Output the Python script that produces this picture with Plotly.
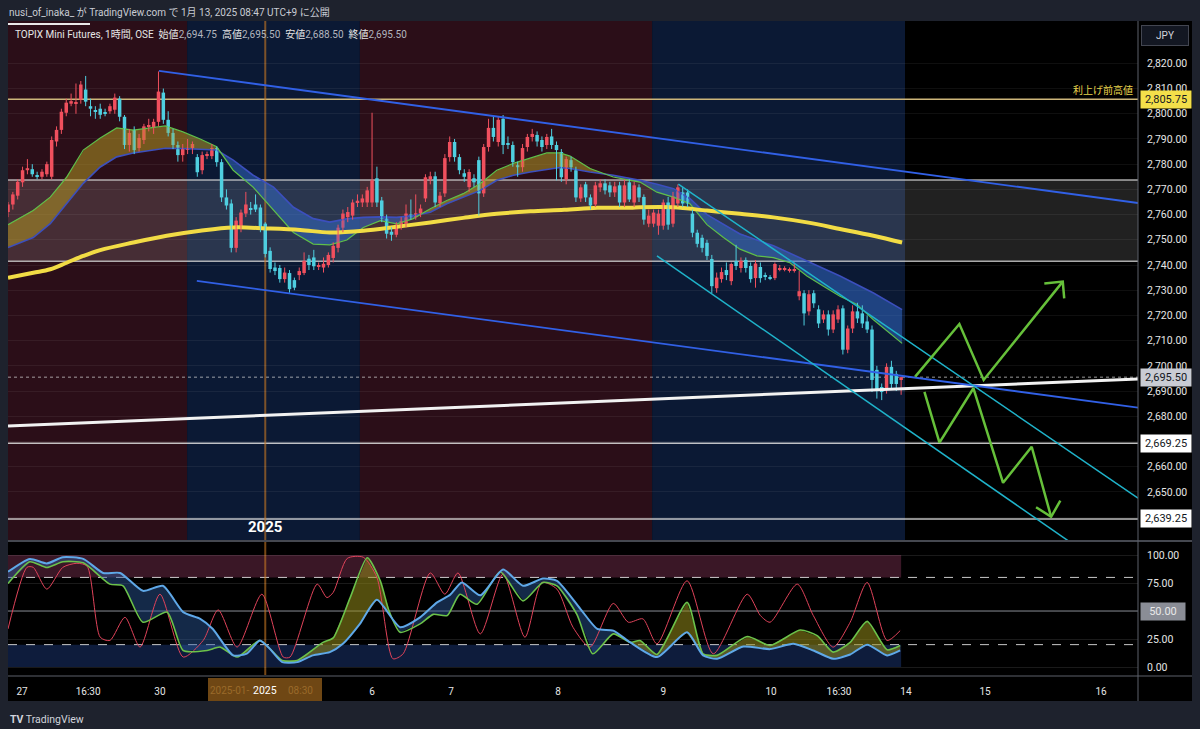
import numpy as np
import plotly.graph_objects as go

W, H = 1200, 729
FONT = "Roboto, Noto Sans CJK JP, sans-serif"

# ---------------- DATA ----------------
opens = [2761, 2764, 2767.5, 2772.8, 2777.6, 2778, 2775.5, 2775, 2776, 2775,
         2789, 2793.6, 2800.4, 2804, 2804, 2805.6, 2809.6, 2803, 2801.5, 2802,
         2800.4, 2801, 2801.6, 2806, 2798.8, 2787.6, 2793.6, 2786.4, 2789.6, 2795,
         2794.4, 2796.8, 2808.4, 2797.6, 2792.4, 2787.6, 2783.6, 2786, 2786.4, 2782.8,
         2777.6, 2783.5, 2783.2, 2786.4, 2780.8, 2766.8, 2764.4, 2746.8, 2754.4, 2760.4,
         2762.5, 2764, 2762.8, 2756.4, 2745.6, 2739, 2738.8, 2734.4, 2736.8, 2734,
         2736, 2736.8, 2742.5, 2743, 2739.5, 2739, 2740, 2742.8, 2746.8, 2754.8,
         2759, 2759.6, 2764.8, 2764.8, 2764.8, 2764.8, 2774.4, 2765.6, 2758.4, 2753.2,
         2752, 2756, 2756.4, 2760, 2759, 2760.4, 2766.4, 2774, 2775.2, 2764.5,
         2768.4, 2782.8, 2788.8, 2782.8, 2776.4, 2770.9, 2774.4, 2781.6, 2768.4, 2786.8,
         2794.4, 2788.8, 2798, 2788.4, 2787.6, 2779.6, 2778.8, 2786.8, 2790.8, 2791.6,
         2789.6, 2787.6, 2791, 2787.6, 2784.8, 2774, 2781.6, 2777.6, 2766.4, 2772,
         2766.8, 2764, 2770.8, 2772.4, 2771.6, 2768.8, 2771.6, 2764.8, 2772.8, 2764.8,
         2770.8, 2767, 2756.4, 2756.4, 2755.6, 2755.6, 2764.8, 2756.4, 2764.4, 2768.8,
         2768.8, 2760.4, 2752.8, 2750.8, 2748.8, 2742.4, 2730.8, 2734.4, 2738, 2733.6,
         2741.6, 2738.8, 2742, 2739.6, 2734.8, 2739.2, 2735.5, 2735, 2734.8, 2738.4,
         2738.4, 2738, 2738, 2727.6, 2728.8, 2721.6, 2728.8, 2722.4, 2718.4, 2720.4,
         2714.4, 2718.4, 2722.8, 2706.4, 2714.8, 2721.6, 2720.8, 2717.6, 2714.4, 2698.4,
         2691.6, 2690.4, 2699.6, 2696.8, 2694.75]
highs = [2765, 2769, 2774, 2779, 2782, 2780, 2777, 2778, 2781, 2791,
         2795, 2802, 2806, 2808, 2812, 2813, 2815, 2806, 2803, 2804,
         2802, 2804, 2808, 2807, 2799.5, 2794, 2795, 2792, 2796, 2798,
         2798, 2816.8, 2810, 2801, 2794, 2789, 2788, 2790, 2789, 2784,
         2785, 2785, 2788, 2787, 2782, 2770, 2766, 2759, 2762, 2769,
         2765, 2768, 2764, 2757, 2747, 2741, 2740, 2739, 2738, 2735,
         2739, 2745, 2744, 2746, 2741, 2743, 2745, 2749, 2756, 2762,
         2763, 2766, 2768, 2768, 2771, 2800.4, 2779, 2767, 2760, 2755,
         2757, 2759, 2764, 2766, 2768, 2764, 2776, 2777, 2777, 2769,
         2784, 2791, 2790, 2784, 2778, 2778, 2776, 2783, 2788, 2798,
         2799, 2799, 2799.5, 2791, 2789, 2781, 2788, 2792, 2794, 2793,
         2791, 2792, 2794, 2789, 2786, 2783, 2783, 2779, 2772, 2773,
         2768, 2773, 2774, 2774, 2773, 2773, 2773, 2774, 2774, 2773,
         2772, 2768, 2762, 2762, 2762, 2766, 2767, 2769, 2772, 2771,
         2770, 2762, 2754, 2752, 2750, 2744, 2737, 2739, 2741, 2741,
         2748, 2743, 2743, 2741, 2742, 2741, 2737, 2736, 2741, 2740,
         2739.5, 2739, 2741, 2737.6, 2730, 2730, 2730, 2724, 2722, 2722,
         2722, 2724, 2724, 2716, 2724, 2725, 2724, 2720, 2716, 2700,
         2693, 2701, 2702, 2698, 2695.5]
lows = [2759, 2762, 2766, 2771, 2776, 2775, 2774, 2774, 2775, 2774,
        2787, 2792, 2799, 2803, 2800, 2804, 2803, 2799, 2798, 2798,
        2799, 2800, 2800, 2797, 2786, 2785, 2784, 2785, 2788, 2793,
        2792, 2795, 2796, 2791, 2786, 2781, 2781, 2784, 2784, 2775,
        2776, 2782, 2782, 2779, 2765, 2762, 2745, 2745, 2753, 2759,
        2760, 2761, 2753, 2743, 2737, 2736, 2733, 2733, 2729, 2730,
        2734, 2736, 2738, 2738, 2738, 2737, 2739, 2741, 2745, 2753,
        2757, 2758, 2763, 2763, 2763, 2763, 2763, 2757, 2750.5, 2749.6,
        2751, 2754, 2755, 2758, 2758, 2759, 2765, 2772, 2763, 2763,
        2767, 2781, 2781, 2776, 2773, 2769, 2771, 2759.6, 2767, 2785,
        2789, 2787, 2784, 2786, 2779, 2775, 2777, 2785, 2789, 2787,
        2785, 2786, 2786, 2773.6, 2773, 2772, 2777, 2765, 2765, 2765,
        2762, 2763, 2769, 2768, 2767, 2767, 2763, 2763, 2765, 2763,
        2765, 2756, 2755, 2755, 2752, 2754, 2754, 2755, 2763, 2763,
        2763, 2751, 2747, 2745, 2742, 2728.8, 2729, 2733, 2734, 2732,
        2738, 2737, 2737, 2733, 2731, 2733, 2734, 2734, 2734, 2737.5,
        2737.5, 2737, 2737, 2726, 2716, 2720, 2723, 2715, 2717, 2712,
        2713, 2717, 2704.5, 2705, 2713, 2717, 2715, 2713, 2689.6, 2687,
        2686.4, 2689, 2691, 2690, 2688.5]
closes = [2764, 2768, 2773, 2777.6, 2778.4, 2776, 2775, 2777, 2780, 2789.6,
          2793.6, 2800.8, 2804.4, 2805, 2804.5, 2811.6, 2804.8, 2802, 2801, 2799.6,
          2800, 2803, 2806.4, 2798.8, 2787.6, 2792.4, 2785.6, 2790.4, 2795, 2795.5,
          2796.8, 2808.8, 2797.6, 2792.4, 2787.6, 2783.6, 2786.4, 2786.5, 2788, 2776.8,
          2783.6, 2783.8, 2786.4, 2780.8, 2766.8, 2763.6, 2746.8, 2757.6, 2760.8, 2764,
          2762, 2762, 2754.8, 2744.4, 2738.4, 2737.6, 2734.4, 2737, 2730.4, 2731,
          2737.6, 2741.6, 2740, 2739.5, 2739.6, 2740.5, 2744, 2747.6, 2754.8, 2760.4,
          2761, 2764.8, 2765.5, 2766.4, 2769.6, 2773.6, 2764.8, 2758.4, 2752.4, 2752,
          2756, 2757.5, 2760.4, 2759, 2760.5, 2762.4, 2774.8, 2775.2, 2764.8, 2767.5,
          2782.4, 2788.8, 2782.8, 2777.6, 2775, 2776.9, 2772.8, 2768.4, 2786.8, 2794.4,
          2790.8, 2797.6, 2787.6, 2788, 2780.8, 2778.8, 2786.4, 2790.8, 2792, 2789,
          2786.8, 2790.8, 2787.6, 2785.6, 2774.8, 2782, 2778.8, 2766.8, 2770.8, 2766.8,
          2763.6, 2771.6, 2772.4, 2769.6, 2768.8, 2771.2, 2764.8, 2771.6, 2766, 2771.6,
          2766.8, 2758, 2759.6, 2760.8, 2760.4, 2764.8, 2756, 2767.2, 2770.8, 2764.4,
          2764.4, 2752.8, 2748.4, 2746.8, 2743.6, 2731.6, 2735, 2737.2, 2736, 2740.4,
          2739.6, 2741.6, 2738.8, 2734.4, 2740.6, 2734.8, 2735.3, 2734.6, 2740.4, 2738.8,
          2738.6, 2738.3, 2738.2, 2729.6, 2720.8, 2728.4, 2724.8, 2716.8, 2720.4, 2714.4,
          2720.4, 2722.4, 2706.4, 2714.8, 2721.6, 2718.8, 2716.8, 2714.4, 2694.4, 2690.8,
          2689.6, 2699.6, 2692.8, 2692.8, 2695.5]

# session background boundaries (bar index units) and kinds
session_edges = [0, 36.9, 72.5, 132.7, 184.8]
session_kinds = ["day", "night", "day", "night"]

# EMA ribbon (fast = green, slow = blue)
ema_fast_x = [0, 5.2, 8.7, 12.1, 15.5, 19.0, 22.4, 25.8, 29.3, 32.4, 35.9, 39.6, 43.0, 46.4, 50.5,
              54.7, 58.8, 62.9, 66.3, 69.8, 73.2, 76.7, 80.1, 83.5, 87.0, 90.4, 93.8, 97.3, 100.7, 104.1,
              107.6, 111.0, 113.7, 115.8, 119.9, 124.7, 128.2, 130.2, 133.7, 137.1, 140.5, 144.0, 147.4,
              150.8, 154.3, 157.7, 161.1, 164.6, 168.0, 171.4, 174.9, 178.3, 184.2]
ema_fast_y = [2756, 2761.6, 2766.9, 2774.9, 2785.6, 2790.4, 2794.4, 2793.5, 2794.4, 2795.2, 2792.9, 2790,
              2786.9, 2777.6, 2770.9, 2761.6, 2752.9, 2748.3, 2748, 2749.9, 2754.9, 2757.6, 2756.3, 2758.4,
              2762.3, 2765.6, 2768.3, 2772.3, 2777.6, 2780.3, 2782.3, 2784.5, 2784.5, 2783.2, 2778.3, 2774.9,
              2773.6, 2772.9, 2768.9, 2766.9, 2764.3, 2756, 2750.9, 2746.3, 2743.6, 2742.9, 2740.9, 2735.6,
              2731.6, 2727.6, 2724.3, 2718.3, 2708.9]
ema_slow_x = [0, 5.2, 8.7, 12.1, 15.5, 19.0, 22.4, 25.8, 29.3, 32.4, 35.9, 39.6, 43.0, 46.4, 50.5,
              54.7, 58.8, 62.9, 66.3, 69.8, 73.2, 76.7, 80.1, 83.5, 87.0, 90.4, 93.8, 97.3, 100.7, 104.1,
              107.6, 111.0, 113.7, 115.8, 119.9, 124.7, 128.2, 130.2, 133.7, 137.1, 140.5, 144.0, 150.8,
              157.7, 164.6, 171.4, 178.3, 184.2]
ema_slow_y = [2746.9, 2750.9, 2756.4, 2764.4, 2772.4, 2778.9, 2782.9, 2784.4, 2785.5, 2786.3, 2786.2, 2786,
              2785.6, 2781.6, 2775.6, 2770.9, 2762.9, 2758.4, 2757, 2758.3, 2758.9, 2759.1, 2758.9, 2759.6,
              2760.9, 2764.3, 2766.9, 2769.6, 2773.6, 2775.6, 2776.9, 2778, 2778.7, 2778.3, 2776.9, 2775.6,
              2774.5, 2773.6, 2772, 2770.3, 2766.3, 2760, 2752.3, 2747.6, 2741.6, 2735.6, 2728.9, 2722.3]

# long moving average (yellow)
sma_x = [0, 5.2, 8.7, 12.1, 15.5, 19.0, 25.8, 32.7, 39.6, 46.4, 53.3, 60.2, 66.3, 73.2, 80.1, 87.0,
         93.8, 100.7, 107.6, 114.6, 121.4, 128.2, 130.2, 137.1, 144.0, 150.8, 157.7, 164.6, 171.4, 178.3, 184.2]
sma_y = [2734.9, 2736.9, 2738.3, 2740.9, 2743.6, 2745.9, 2748.9, 2751.6, 2753.6, 2754.9, 2754.5, 2753.9,
         2752.9, 2753.6, 2755.2, 2756.9, 2758.7, 2760.3, 2761.3, 2761.9, 2762.7, 2762.7, 2762.9, 2762.9,
         2761.6, 2760.3, 2758.9, 2756.9, 2754.3, 2751.6, 2748.9]

# oscillator lines
osc_blue_x = [0, 4.5, 8.0, 11.3, 15.5, 19.6, 23.1, 27.8, 31.9, 36.1, 39.6, 42.2, 46.4, 49.2, 51.9, 54.0,
              56.5, 59.6, 62.8, 66.3, 69.0, 72.5, 76.0, 80.8, 84.9, 88.4, 91.1, 93.5, 97.3, 102.0, 106.1,
              110.2, 113.1, 117.9, 121.4, 124.7, 128.2, 133.7, 139.9, 143.2, 146.1, 151.5, 157.0, 161.8,
              165.9, 170.0, 173.5, 177.0, 181.1, 183.8]
osc_blue_y = [85, 96.5, 92.5, 98, 96.5, 84, 84, 68, 72.5, 49, 43, 34, 10.4, 12, 23.7, 16, 4.4, 4.4, 10.4,
              13.3, 20.7, 38.5, 60, 35.5, 44.4, 57.7, 64.5, 75.5, 64, 87, 72.5, 79, 77, 52, 34, 32.5, 22,
              8.9, 31, 10.4, 7.4, 18.3, 16, 20.7, 14.8, 7.4, 11.2, 20, 10.4, 14.8]
osc_green_x = [0, 4.5, 8.0, 11.3, 15.5, 21.0, 23.7, 27.8, 32.8, 36.1, 41.0, 43.7, 47.2, 51.9, 56.5, 59.6,
               64.9, 67.0, 70.5, 74.0, 76.7, 78.5, 80.8, 84.9, 87.6, 90.5, 93.1, 96.6, 101.4, 106.1, 110.2,
               113.1, 117.2, 120.5, 124.7, 128.2, 130.2, 133.7, 139.9, 143.2, 146.1, 152.3, 157.0, 163.2,
               166.7, 170.0, 173.5, 177.0, 181.1, 183.8]
osc_green_y = [74.6, 94, 88.8, 94, 93, 74, 72.5, 40, 49, 14.8, 14.8, 17.8, 8.9, 23.7, 5.9, 5.9, 22, 26, 62,
               97.6, 76.9, 50, 31, 38.5, 47, 46, 65, 56, 85, 59, 75.5, 72.5, 47, 11.8, 29.6, 22, 23.7, 11.2,
               57.7, 11.8, 10.4, 27.2, 19.2, 33, 28, 13.3, 22, 40.8, 15.4, 19.2]
osc_red_x = [0, 3.9, 5.2, 8.0, 11.3, 14.2, 16.3, 19.0, 21.0, 24.1, 27.2, 31.3, 36.1, 40.2, 43.3, 47.2,
             52.3, 56.7, 58.1, 63.7, 65.7, 67.0, 69.9, 73.2, 76.0, 79.3, 81.4, 87.0, 90.0, 92.7, 97.3,
             102.0, 106.5, 110.0, 113.1, 116.4, 119.9, 124.7, 127.8, 130.8, 133.7, 139.9, 145.3, 152.3,
             155.0, 157.0, 162.6, 165.9, 170.0, 173.5, 177.0, 181.1, 183.8]
osc_red_y = [34, 89, 89, 69.5, 89, 92.6, 90, 26.6, 23.7, 44.4, 17.8, 65, 8.9, 23.7, 51, 17.8, 65, 8.9, 8.9,
             74, 62, 66.6, 97, 98, 80, 7.4, 11.8, 84, 65, 84, 29.6, 83, 26.6, 75.5, 69.5, 35.5, 17.8, 56.8,
             40, 43, 20.7, 77, 11.8, 65, 46, 40, 74, 46, 17.8, 40, 75.5, 23.7, 32.5]

# horizontal levels
level_prev_high = 2805.75
box_top, box_bottom = 2773.7, 2741.5
level_a, level_b = 2669.25, 2639.25
last_price = 2695.50

# trend lines (bar index, price)
blue_upper_x, blue_upper_y = [31.1, 232.8], [2817.0, 2764.6]
blue_lower_x, blue_lower_y = [38.9, 232.8], [2733.7, 2683.4]
white_x, white_y = [0, 232.8], [2676.1, 2694.8]
cyan_upper_x, cyan_upper_y = [138.1, 232.8], [2772.1, 2647.5]
cyan_lower_x, cyan_lower_y = [133.7, 232.8], [2743.6, 2611.4]

# scenario arrows
up_path_x, up_path_y = [186.9, 196.0, 201.0, 217.3], [2695.7, 2716.6, 2694.4, 2733.4]
up_head_x, up_head_y = [213.5, 217.3, 217.6], [2732.7, 2733.4, 2726.8]
dn_path_x = [188.8, 191.9, 198.9, 205.0, 210.9, 214.9]
dn_path_y = [2689.7, 2669.5, 2691.1, 2653.6, 2667.9, 2640.1]
dn_head_x, dn_head_y = [211.8, 214.9, 216.8], [2643.9, 2640.1, 2646.5]

# axis ticks
x_tick_pos = [2.9, 16.5, 31.3, 75.0, 91.3, 113.3, 135.0, 157.2, 171.2, 185.0, 201.3, 225.2]
x_tick_text = ["27", "16:30", "30", "6", "7", "8", "9", "10", "16:30", "14", "15", "16"]
year_tick_pos = 53.0
price_ticks = list(range(2640, 2821, 10))
osc_ticks = [0, 25, 75, 100]
osc_mid = 50

# ---------------- LAYOUT GEOMETRY ----------------
X_RANGE = [0, 232.8]
Y_RANGE = [2630.9, 2836.8]
Y2_RANGE = [-7.1, 111.6]
XDOM = [8 / W, 1138 / W]
YDOM = [1 - 540 / H, 1 - 21 / H]
Y2DOM = [1 - 675 / H, 1 - 542 / H]


def py(p):
    return 1 - p / H


RED = "#f0505e"
CYAN = "#4fcfe0"

fig = go.Figure()


def split_fill(xa, ya, xb, yb, x_lo, x_hi, c_above, c_below, xr, yr, step=0.2):
    g = np.arange(x_lo, x_hi + 1e-9, step)
    a = np.interp(g, xa, ya)
    b = np.interp(g, xb, yb)
    d = a - b
    out = []

    def poly(sx, sa, sb, upc):
        return go.Scatter(x=list(sx) + list(sx)[::-1], y=list(sa) + list(sb)[::-1], fill="toself",
                          fillcolor=c_above if upc else c_below, line=dict(width=0), mode="lines",
                          hoverinfo="skip", xaxis=xr, yaxis=yr)

    sx, sa, sb = [g[0]], [a[0]], [b[0]]
    cur = d[0] >= 0
    for i in range(1, len(g)):
        s = d[i] >= 0
        if s != cur:
            t = d[i - 1] / (d[i - 1] - d[i])
            xc = g[i - 1] + t * (g[i] - g[i - 1])
            yc = a[i - 1] + t * (a[i] - a[i - 1])
            sx.append(xc); sa.append(yc); sb.append(yc)
            out.append(poly(sx, sa, sb, cur))
            sx, sa, sb = [xc], [yc], [yc]
            cur = s
        sx.append(g[i]); sa.append(a[i]); sb.append(b[i])
    out.append(poly(sx, sa, sb, cur))
    return out


# --- EMA ribbon ---
for tr in split_fill(ema_fast_x, ema_fast_y, ema_slow_x, ema_slow_y, 0, 184.2,
                     "rgba(176,150,36,0.55)", "rgba(52,110,205,0.50)", "x", "y"):
    fig.add_trace(tr)
fig.add_trace(go.Scatter(x=ema_slow_x, y=ema_slow_y, mode="lines", line=dict(color="#3c4fbd", width=1.6),
                         hoverinfo="skip"))
fig.add_trace(go.Scatter(x=ema_fast_x, y=ema_fast_y, mode="lines", line=dict(color="#5fbf4a", width=1.2),
                         hoverinfo="skip"))
# --- long MA ---
fig.add_trace(go.Scatter(x=sma_x, y=sma_y, mode="lines", line=dict(color="#f2dc45", width=4, shape="spline"),
                         hoverinfo="skip"))

# --- candles ---
n = min(len(opens), len(highs), len(lows), len(closes))
idx = list(range(n))
up = [closes[i] >= opens[i] for i in idx]
for flag, col in ((True, RED), (False, CYAN)):
    wx, wy = [], []
    for i in idx:
        if up[i] == flag:
            wx += [i, i, None]
            wy += [lows[i], highs[i], None]
    fig.add_trace(go.Scatter(x=wx, y=wy, mode="lines", line=dict(color=col, width=1), hoverinfo="skip"))
fig.add_trace(go.Bar(x=idx, base=[min(opens[i], closes[i]) for i in idx],
                     y=[max(abs(closes[i] - opens[i]), 0.4) for i in idx], width=0.72,
                     marker=dict(color=[RED if u else CYAN for u in up], line=dict(width=0)),
                     hoverinfo="skip"))

# --- trend lines ---
fig.add_trace(go.Scatter(x=white_x, y=white_y, mode="lines", line=dict(color="#f2f2f2", width=3), hoverinfo="skip"))
for lx, ly in ((blue_upper_x, blue_upper_y), (blue_lower_x, blue_lower_y)):
    fig.add_trace(go.Scatter(x=lx, y=ly, mode="lines", line=dict(color="#3160e6", width=1.8), hoverinfo="skip"))
for lx, ly in ((cyan_upper_x, cyan_upper_y), (cyan_lower_x, cyan_lower_y)):
    fig.add_trace(go.Scatter(x=lx, y=ly, mode="lines", line=dict(color="#1fb3ca", width=1.5), hoverinfo="skip"))
for lx, ly in ((up_path_x, up_path_y), (up_head_x, up_head_y), (dn_path_x, dn_path_y), (dn_head_x, dn_head_y)):
    fig.add_trace(go.Scatter(x=lx, y=ly, mode="lines", line=dict(color="#66c03a", width=2.5), hoverinfo="skip"))

# --- oscillator ---
for tr in split_fill(osc_green_x, osc_green_y, osc_blue_x, osc_blue_y, 0, 183.8,
                     "rgba(150,140,25,0.55)", "rgba(45,90,160,0.45)", "x2", "y2"):
    fig.add_trace(tr)
fig.add_trace(go.Scatter(x=osc_red_x, y=osc_red_y, mode="lines",
                         line=dict(color="#e0435a", width=1, shape="spline", smoothing=0.7),
                         xaxis="x2", yaxis="y2", hoverinfo="skip"))
fig.add_trace(go.Scatter(x=osc_green_x, y=osc_green_y, mode="lines",
                         line=dict(color="#6cc24a", width=1.6, shape="spline", smoothing=0.6),
                         xaxis="x2", yaxis="y2", hoverinfo="skip"))
fig.add_trace(go.Scatter(x=osc_blue_x, y=osc_blue_y, mode="lines",
                         line=dict(color="#5fa8e8", width=2, shape="spline", smoothing=0.6),
                         xaxis="x2", yaxis="y2", hoverinfo="skip"))

# ---------------- SHAPES ----------------
shapes = []
shapes.append(dict(type="rect", xref="paper", yref="paper", x0=8 / W, x1=1192 / W, y0=py(701), y1=py(21),
                   fillcolor="#000000", line=dict(width=0), layer="below"))
for k, kind in enumerate(session_kinds):
    col = "#2b0e18" if kind == "day" else "#0b1934"
    shapes.append(dict(type="rect", xref="x", yref="y", x0=session_edges[k], x1=session_edges[k + 1],
                       y0=Y_RANGE[0], y1=Y_RANGE[1], fillcolor=col, line=dict(width=0), layer="below"))
shapes.append(dict(type="rect", xref="x", yref="y", x0=X_RANGE[0], x1=X_RANGE[1], y0=box_bottom, y1=box_top,
                   fillcolor="rgba(255,255,255,0.13)", line=dict(width=0), layer="below"))
for lv in (box_top, box_bottom):
    shapes.append(dict(type="line", xref="x", yref="y", x0=X_RANGE[0], x1=X_RANGE[1], y0=lv, y1=lv,
                       line=dict(color="rgba(210,210,210,0.8)", width=1.5), layer="below"))
shapes.append(dict(type="line", xref="x", yref="y", x0=X_RANGE[0], x1=X_RANGE[1], y0=level_prev_high,
                   y1=level_prev_high, line=dict(color="#cdb67a", width=1.5), layer="below"))
for lv in (level_a, level_b):
    shapes.append(dict(type="line", xref="x", yref="y", x0=X_RANGE[0], x1=X_RANGE[1], y0=lv, y1=lv,
                       line=dict(color="rgba(225,225,225,0.85)", width=1.5), layer="below"))
shapes.append(dict(type="line", xref="x", yref="y", x0=X_RANGE[0], x1=X_RANGE[1], y0=last_price, y1=last_price,
                   line=dict(color="rgba(220,220,220,0.7)", width=1, dash="dot"), layer="below"))
shapes.append(dict(type="rect", xref="x2", yref="y2", x0=0, x1=184, y0=80, y1=100, fillcolor="#3a1726",
                   line=dict(width=0), layer="below"))
shapes.append(dict(type="rect", xref="x2", yref="y2", x0=0, x1=184, y0=0, y1=20, fillcolor="#0e1c3c",
                   line=dict(width=0), layer="below"))
for lv in (80, 20):
    shapes.append(dict(type="line", xref="x2", yref="y2", x0=X_RANGE[0], x1=X_RANGE[1], y0=lv, y1=lv,
                       line=dict(color="rgba(235,235,235,0.85)", width=1, dash="dash"), layer="below"))
shapes.append(dict(type="line", xref="x2", yref="y2", x0=X_RANGE[0], x1=X_RANGE[1], y0=osc_mid, y1=osc_mid,
                   line=dict(color="#8a8d96", width=1), layer="below"))
shapes.append(dict(type="line", xref="x", yref="y", x0=year_tick_pos, x1=year_tick_pos, y0=Y_RANGE[0],
                   y1=Y_RANGE[1], line=dict(color="rgba(200,120,35,0.6)", width=2), layer="below"))
shapes.append(dict(type="line", xref="x2", yref="y2", x0=year_tick_pos, x1=year_tick_pos, y0=Y2_RANGE[0],
                   y1=Y2_RANGE[1], line=dict(color="rgba(200,120,35,0.6)", width=2), layer="below"))
shapes.append(dict(type="line", xref="paper", yref="paper", x0=1138 / W, x1=1138 / W, y0=py(701), y1=py(21),
                   line=dict(color="#5d606b", width=1)))
shapes.append(dict(type="line", xref="paper", yref="paper", x0=8 / W, x1=1192 / W, y0=py(541), y1=py(541),
                   line=dict(color="#5d606b", width=1.5)))
shapes.append(dict(type="line", xref="paper", yref="paper", x0=8 / W, x1=1192 / W, y0=py(676), y1=py(676),
                   line=dict(color="#5d606b", width=1)))
shapes.append(dict(type="rect", xref="paper", yref="paper", x0=208 / W, x1=322 / W, y0=py(701), y1=py(678),
                   fillcolor="#6f4714", line=dict(width=0)))
shapes.append(dict(type="line", xref="paper", yref="paper", x0=8 / W, x1=90 / W, y0=py(24), y1=py(24),
                   line=dict(color="#e8e8e8", width=2)))

# ---------------- ANNOTATIONS ----------------
ann = []
ann.append(dict(text="nusi_of_inaka_ が TradingView.com で 1月 13, 2025 08:47 UTC+9 に公開",
                xref="paper", yref="paper", x=7 / W, y=py(12), xanchor="left", yanchor="middle",
                showarrow=False, font=dict(size=10, color="#c9ccd4", family=FONT)))
vc = "#b2b5be"
legend = ("TOPIX Mini Futures, 1時間, OSE  始値<span style='color:%s'>2,694.75</span>  高値"
          "<span style='color:%s'>2,695.50</span>  安値<span style='color:%s'>2,688.50</span>  終値"
          "<span style='color:%s'>2,695.50</span>") % (vc, vc, vc, vc)
ann.append(dict(text=legend, xref="paper", yref="paper", x=13 / W, y=py(34), xanchor="left", yanchor="middle",
                showarrow=False, font=dict(size=10, color="#e6e6e6", family=FONT)))
ann.append(dict(text="<b>2025</b>", xref="x", yref="y", x=year_tick_pos, y=2636, xanchor="center",
                showarrow=False, font=dict(size=15, color="#ffffff", family=FONT)))
ann.append(dict(text="利上げ前高値", xref="paper", yref="y", x=1135 / W, y=level_prev_high, xanchor="right",
                yanchor="bottom", yshift=1, showarrow=False, font=dict(size=10, color="#e8d44d", family=FONT)))
for val, bg, fg in ((level_prev_high, "#f3df4a", "#131722"), (last_price, "#c9ccd4", "#131722"),
                    (level_a, "#ffffff", "#131722"), (level_b, "#ffffff", "#131722")):
    ann.append(dict(text=f"{val:,.2f}", xref="paper", yref="y", x=1140 / W, y=val, xanchor="left",
                    yanchor="middle", showarrow=False, bgcolor=bg, borderpad=2, width=46,
                    font=dict(size=11, color=fg, family=FONT)))
ann.append(dict(text=f"{osc_mid:.2f}", xref="paper", yref="y2", x=1140 / W, y=osc_mid, xanchor="left",
                yanchor="middle", showarrow=False, bgcolor="#8a8d96", borderpad=2, width=40,
                font=dict(size=11, color="#e8e8e8", family=FONT)))
ann.append(dict(text="JPY", xref="paper", yref="paper", x=1165 / W, y=py(35), xanchor="center",
                yanchor="middle", showarrow=False, bgcolor="#131722", bordercolor="#434651", borderwidth=1,
                borderpad=4, width=38, font=dict(size=10, color="#d1d4dc", family=FONT)))
# crosshair time label (partly hidden behind the year tick in the original)
ann.append(dict(text="2025-01-", xref="paper", yref="paper", x=251 / W, y=py(690),
                xanchor="right", yanchor="middle", showarrow=False,
                font=dict(size=10, color="#9a6a2a", family=FONT)))
ann.append(dict(text="08:30", xref="paper", yref="paper", x=315 / W, y=py(690),
                xanchor="right", yanchor="middle", showarrow=False,
                font=dict(size=10, color="#9a6a2a", family=FONT)))
ann.append(dict(text="2025", xref="paper", yref="paper", x=265 / W, y=py(690), xanchor="center",
                yanchor="middle", showarrow=False, font=dict(size=10.5, color="#ffffff", family=FONT)))
ann.append(dict(text="<b>TV</b> TradingView", xref="paper", yref="paper", x=8 / W, y=py(719), xanchor="left",
                yanchor="middle", showarrow=False, font=dict(size=10.5, color="#d1d4dc", family=FONT)))

fig.update_layout(
    width=W, height=H, margin=dict(l=0, r=0, t=0, b=0),
    paper_bgcolor="#1e222d", plot_bgcolor="rgba(0,0,0,0)", showlegend=False,
    shapes=shapes, annotations=ann, hovermode=False,
    xaxis=dict(domain=XDOM, range=X_RANGE, anchor="y", showticklabels=False, showgrid=False, zeroline=False,
               showline=False),
    xaxis2=dict(domain=XDOM, range=X_RANGE, anchor="y2", matches="x", showgrid=False, zeroline=False,
                showline=False, tickmode="array", tickvals=x_tick_pos, ticktext=x_tick_text, ticks="",
                tickfont=dict(size=10, color="#e6e6e6", family=FONT), ticklabelstandoff=9),
    yaxis=dict(domain=YDOM, range=Y_RANGE, anchor="x", side="right", tickmode="array", tickvals=price_ticks,
               ticktext=[f"{v:,.2f}" for v in price_ticks], showgrid=True, gridcolor="rgba(255,255,255,0.06)",
               zeroline=False, showline=False, ticks="", tickfont=dict(size=10.5, color="#e6e6e6", family=FONT),
               ticklabelstandoff=8),
    yaxis2=dict(domain=Y2DOM, range=Y2_RANGE, anchor="x2", side="right", tickmode="array", tickvals=osc_ticks,
                ticktext=[f"{v:.2f}" for v in osc_ticks], showgrid=True, gridcolor="rgba(255,255,255,0.10)",
                zeroline=False, showline=False, ticks="", tickfont=dict(size=10.5, color="#e6e6e6", family=FONT),
                ticklabelstandoff=8),
)

fig.write_html("out.html")
